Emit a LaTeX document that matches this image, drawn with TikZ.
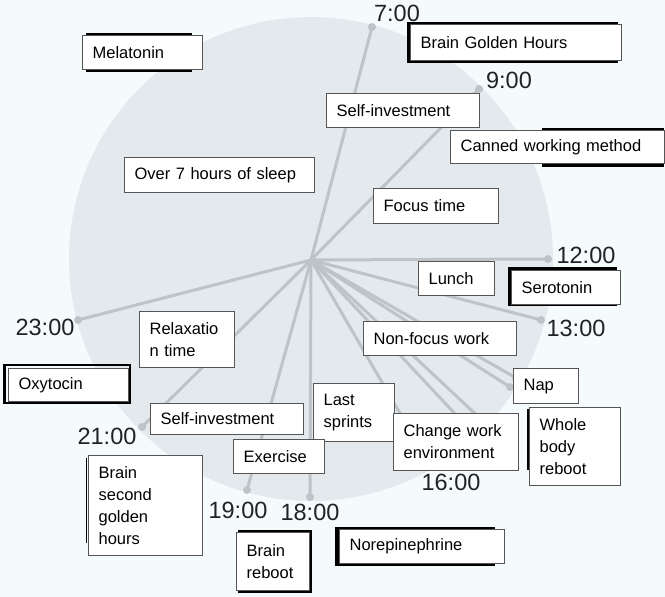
\documentclass[tikz,border=0pt]{standalone}
\usepackage{fontspec}
\setmainfont{Liberation Sans}
\definecolor{bg}{HTML}{F5FBFD}
\definecolor{disc}{HTML}{E3E9ED}
\definecolor{spoke}{HTML}{BEC3C7}
\definecolor{frame}{HTML}{555555}
\definecolor{tlab}{HTML}{222222}
\begin{document}
\begin{tikzpicture}[x=1pt,y=-1pt,
  bx/.style={draw=frame, line width=1.2pt, fill=white, anchor=north west,
    inner xsep=10pt, inner ysep=0pt, align=left,
    font=\fontsize{16.5}{22}\selectfont, text=black},
  spk/.style={draw=spoke, line width=3pt},
  tdot/.style={fill=spoke},
  tl/.style={font=\fontsize{23.5}{26}\selectfont, text=tlab, inner sep=0pt},
  shade/.style={fill=black}]
\useasboundingbox (0,0) rectangle (665,597);
\fill[bg] (0,0) rectangle (665,597);
\fill[disc] (311,259) circle (242pt);

% spoke ends
\coordinate (hub) at (311,260);
\coordinate (d7) at (372,27);
\coordinate (d9) at (479,89);
\coordinate (d12) at (548,259);
\coordinate (d13) at (541,320);
\coordinate (d14) at (516,378);
\coordinate (dnap) at (510,387);
\coordinate (d15a) at (484,422);
\coordinate (d15b) at (473,433);
\coordinate (d16) at (430,465);
\coordinate (d18) at (310,497);
\coordinate (d19) at (247,490);
\coordinate (d21) at (142,427);
\coordinate (d23) at (78,320);

\foreach \e in {d7,d9,d12,d13,d14,dnap,d15a,d15b,d16,d18,d19,d21,d23}{
  \draw[spk] (hub) -- (\e);
  \fill[tdot] (\e) circle (4pt);
}

% time labels
\node[tl] (t7) at (397,13) {7:00};
\node[tl] (t9) at (509,80) {9:00};
\node[tl] (t12) at (586,255) {12:00};
\node[tl] (t13) at (576,328) {13:00};
\node[tl] (t16) at (451,482) {16:00};
\node[tl] (t18) at (310,512) {18:00};
\node[tl] (t19) at (238,510) {19:00};
\node[tl] (t21) at (107,436) {21:00};
\node[tl] (t23) at (45,327) {23:00};

% shadow frames
\fill[shade] (86,33) rectangle (192,72);
\fill[shade] (407,22) rectangle (618,63);
\fill[shade] (542,128) rectangle (664,167);
\fill[shade] (508,267) rectangle (617,306);
\fill[shade] (527,409) rectangle (540,470);
\fill[shade] (335,527) rectangle (495,566);
\fill[shade] (238,530) rectangle (312,593);
\draw[black, line width=1.2pt] (86.6,458) -- (86.6,543);
\draw[black, line width=2.5pt] (4.5,365) rectangle (130,403);

% boxes
\node[bx, text width=100pt, minimum height=34pt] (melatonin) at (82,35) {Melatonin};
\node[bx, text width=191pt, minimum height=36pt] (bgh) at (410,24) {Brain Golden Hours};
\node[bx, text width=133pt, minimum height=34pt] (selfinv1) at (326,93) {Self-investment};
\node[bx, text width=194pt, minimum height=33pt] (canned) at (450,130) {Canned working method};
\node[bx, text width=170pt, minimum height=35pt] (sleep) at (124,157) {Over 7 hours of sleep};
\node[bx, text width=105pt, minimum height=35pt] (focus) at (373,188) {Focus time};
\node[bx, text width=56pt, minimum height=34pt] (lunch) at (418,261) {Lunch};
\node[bx, text width=89pt, minimum height=34pt] (serotonin) at (511,270) {Serotonin};
\node[bx, text width=133pt, minimum height=34pt] (nonfocus) at (363,321) {Non-focus work};
\node[bx, text width=45pt, minimum height=35pt] (nap) at (513,368) {Nap};
\node[bx, text width=71pt, minimum height=78pt] (wbr) at (529,407) {Whole\\body\\reboot};
\node[bx, text width=61pt, minimum height=58pt] (lastspr) at (313,383) {Last\\sprints};
\node[bx, text width=105pt, minimum height=57pt] (change) at (393,413) {Change work\\environment};
\node[bx, text width=145pt, minimum height=34pt] (norepi) at (339,529) {Norepinephrine};
\node[bx, text width=53pt, minimum height=58pt] (breboot) at (236,532) {Brain\\reboot};
\node[bx, text width=94pt, minimum height=100pt] (bsecond) at (88,455) {Brain\\second\\golden\\hours};
\node[bx, text width=100pt, minimum height=33pt] (oxytocin) at (8,368) {Oxytocin};
\node[bx, text width=75pt, minimum height=56pt] (relax) at (139,311) {Relaxatio\\n time};
\node[bx, text width=133pt, minimum height=31pt] (selfinv2) at (150,403) {Self-investment};
\node[bx, text width=71pt, minimum height=34pt] (exercise) at (233,439) {Exercise};
\end{tikzpicture}
\end{document}
